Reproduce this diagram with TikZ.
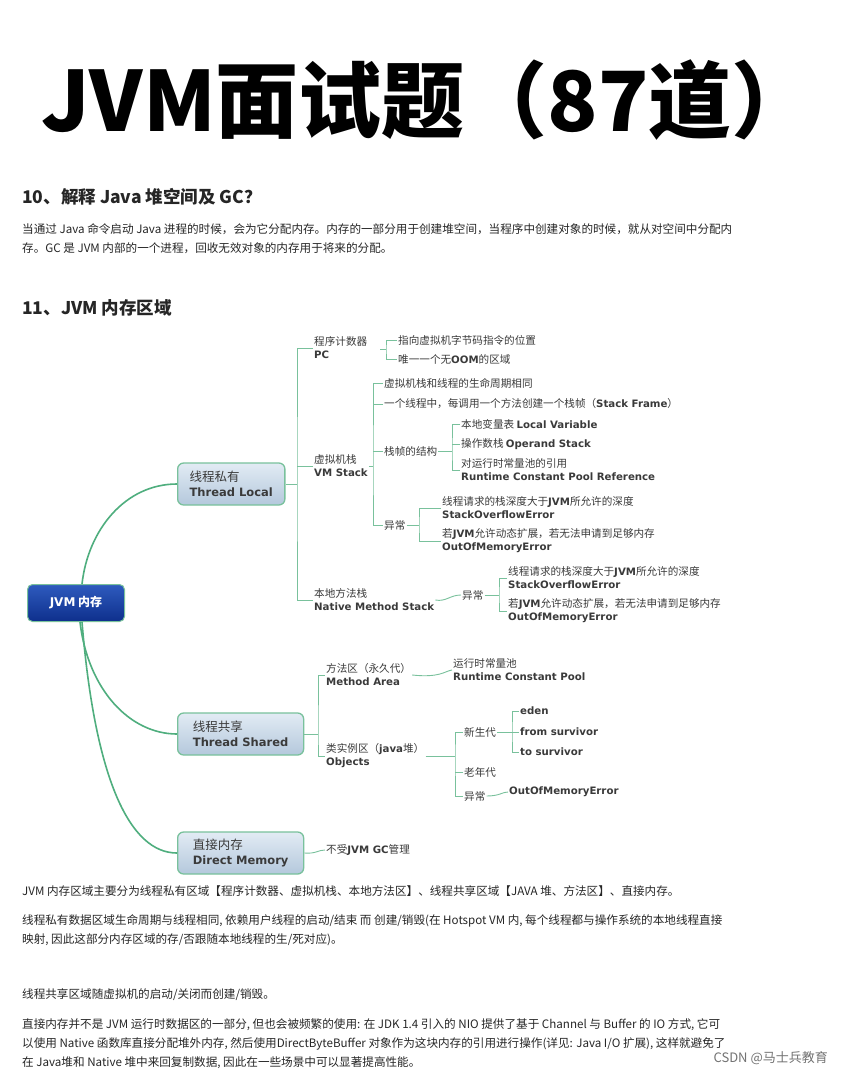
\documentclass[tikz,border=0pt]{standalone}
\usepackage{fontspec}
\setmainfont{Noto Sans CJK SC}
\newfontfamily\en{DejaVu Sans}
\definecolor{curve}{HTML}{4FAE7E}
\definecolor{brc}{HTML}{79C19C}
\definecolor{txt}{HTML}{3A3A3A}
\definecolor{boxl}{HTML}{E2EBF4}
\definecolor{boxd}{HTML}{B4C8DC}
\definecolor{jvmt}{HTML}{2E5BBE}
\definecolor{jvmb}{HTML}{0E2F8C}
\tikzset{
 br/.style={brc,line width=0.9pt},
 cv/.style={curve,line width=1.6pt},
 item/.style={anchor=west,inner sep=1pt,font=\fontsize{10.6}{13}\selectfont,text=txt,align=left},
 mbox/.style={rounded corners=6pt,draw=brc,line width=1.3pt,top color=boxl,bottom color=boxd,
   minimum height=42pt,inner xsep=12pt,anchor=west,align=left,text=txt,font=\fontsize{12.5}{15}\selectfont},
 para/.style={anchor=west,inner sep=0pt,font=\fontsize{11.6}{13}\selectfont,text=black!85},
 head/.style={anchor=west,inner sep=0pt,font=\fontsize{17.5}{19}\selectfont\bfseries,text=black!85}
}
\newcommand\B[1]{{\en\bfseries\fontsize{10.2}{13}\selectfont #1}}
\begin{document}
\begin{tikzpicture}[x=1pt,y=-1pt]
\useasboundingbox[fill=white] (0,0) rectangle (842,1079);
\node[inner sep=0pt,font=\fontsize{83}{88}\selectfont\bfseries] (title) at (428,100) {JVM面试题（87道）};
\node[head] (h10) at (22,197) {10、解释 Java 堆空间及 GC？};
\node[para] (p1) at (22,229) {当通过 Java 命令启动 Java 进程的时候，会为它分配内存。内存的一部分用于创建堆空间，当程序中创建对象的时候，就从对空间中分配内};
\node[para] (p2) at (22,248) {存。GC 是 JVM 内部的一个进程，回收无效对象的内存用于将来的分配。};
\node[head] (h11) at (22,308) {11、JVM 内存区域};

% boxes
\node[rounded corners=5pt,draw=brc,line width=1pt,top color=jvmt,bottom color=jvmb,
  minimum width=97pt,minimum height=37pt,text=white,font=\fontsize{12}{14}\selectfont\bfseries] (jvm) at (76,603) {{\en JVM} 内存};
\node[mbox,minimum width=106pt] (tl) at (177,484) {线程私有\\\textbf{\en\fontsize{11.5}{14}\selectfont Thread Local}};
\node[mbox,minimum width=126pt] (ts) at (177,734) {线程共享\\\textbf{\en\fontsize{11.5}{14}\selectfont Thread Shared}};
\node[mbox,minimum width=126pt] (dm) at (177,853) {直接内存\\\textbf{\en\fontsize{11.5}{14}\selectfont Direct Memory}};
\draw[cv] ([xshift=6pt]jvm.north) .. controls (88,530) and (125,484) .. (tl.west);
\draw[cv] ([xshift=4pt]jvm.south) .. controls (88,690) and (130,734) .. (ts.west);
\draw[cv] ([xshift=6pt]jvm.south) .. controls (95,780) and (130,853) .. (dm.west);

% Thread local children
\node[item] (pc) at (313,348) {程序计数器\\\B{PC}};
\node[item] (vms) at (313,466) {虚拟机栈\\\B{VM Stack}};
\node[item] (nms) at (313,600) {本地方法栈\\\B{Native Method Stack}};
\draw[br] (tl.east) -- (297,484);
\draw[br] (pc.west) -| (297,484) |- (nms.west);
\draw[br] (vms.west) -- (297,466);

% PC children
\node[item] (pc1) at (397,340) {指向虚拟机字节码指令的位置};
\node[item] (pc2) at (397,359) {唯一一个无\B{OOM}的区域};
\draw[br] (pc1.west) -| (386,349) |- (pc2.west);
\draw[br] (380,349) -- (386,349);

% VM stack children
\node[item] (v1) at (383,383) {虚拟机栈和线程的生命周期相同};
\node[item] (v2) at (383,404) {一个线程中，每调用一个方法创建一个栈帧（\B{Stack Frame}）};
\node[item] (v3) at (383,451) {栈帧的结构};
\node[item] (v4) at (383,525) {异常};
\draw[br] (v1.west) -| (373,466) |- (v4.west);
\draw[br] (v2.west) -- (373,404);
\draw[br] (v3.west) -- (373,451);
\draw[br] (vms.east) -- (373,466);

\node[item] (s1) at (460,424) {本地变量表 \B{Local Variable}};
\node[item] (s2) at (460,444) {操作数栈 \B{Operand Stack}};
\node[item] (s3) at (460,470) {对运行时常量池的引用\\\B{Runtime Constant Pool Reference}};
\draw[br] (s1.west) -| (452,451) |- (s3.west);
\draw[br] (s2.west) -- (452,444);
\draw[br] (v3.east) -- (452,451);

\node[item] (e1) at (441,508) {线程请求的栈深度大于\B{JVM}所允许的深度\\\B{StackOverflowError}};
\node[item] (e2) at (441,541) {若\B{JVM}允许动态扩展，若无法申请到足够内存\\\B{OutOfMemoryError}};
\draw[br] (e1.west) -| (419,525) |- (e2.west);
\draw[br] (v4.east) -- (419,525);

% native
\node[item] (ne) at (461,595) {异常};
\draw[br] (nms.east) .. controls (446,602) and (450,595) .. (ne.west);
\node[item] (n1) at (507,578) {线程请求的栈深度大于\B{JVM}所允许的深度\\\B{StackOverflowError}};
\node[item] (n2) at (507,611) {若\B{JVM}允许动态扩展，若无法申请到足够内存\\\B{OutOfMemoryError}};
\draw[br] (n1.west) -| (499,595) |- (n2.west);
\draw[br] (ne.east) -- (499,595);

% Thread shared
\node[item] (ma) at (325,675) {方法区（永久代）\\\B{Method Area}};
\node[item] (ob) at (325,756) {类实例区（\B{java}堆）\\\B{Objects}};
\draw[br] (ma.west) -| (318,734) |- (ob.west);
\draw[br] (ts.east) -- (318,734);
\node[item] (rcp) at (452,670) {运行时常量池\\\B{Runtime Constant Pool}};
\draw[br] (ma.east) .. controls (440,678) and (445,671) .. (rcp.west);

\node[item] (yg) at (463,732) {新生代};
\node[item] (og) at (463,772) {老年代};
\node[item] (oe) at (463,796) {异常};
\draw[br] (yg.west) -| (455,756) |- (oe.west);
\draw[br] (og.west) -- (455,772);
\draw[br] (ob.east) -- (455,756);
\node[item] (ed) at (519,711) {\B{eden}};
\node[item] (fs) at (519,732) {\B{from survivor}};
\node[item] (tsv) at (519,752) {\B{to survivor}};
\draw[br] (ed.west) -| (512,732) |- (tsv.west);
\draw[br] (yg.east) -- (fs.west);
\node[item] (oom) at (508,792) {\B{OutOfMemoryError}};
\draw[br] (oe.east) .. controls (500,796) and (502,792) .. (oom.west);

\node[item] (gc) at (325,850) {不受\B{JVM GC}管理};
\draw[br] (dm.east) .. controls (316,854) and (318,850) .. (gc.west);

% bottom text
\node[para] (b1) at (22,891) {JVM 内存区域主要分为线程私有区域【程序计数器、虚拟机栈、本地方法区】、线程共享区域【JAVA 堆、方法区】、直接内存。};
\node[para] (b2) at (22,921) {线程私有数据区域生命周期与线程相同, 依赖用户线程的启动/结束 而 创建/销毁(在 Hotspot VM 内, 每个线程都与操作系统的本地线程直接};
\node[para] (b3) at (22,940) {映射, 因此这部分内存区域的存/否跟随本地线程的生/死对应)。};
\node[para] (b4) at (22,995) {线程共享区域随虚拟机的启动/关闭而创建/销毁。};
\node[para] (b5) at (22,1025) {直接内存并不是 JVM 运行时数据区的一部分, 但也会被频繁的使用: 在 JDK 1.4 引入的 NIO 提供了基于 Channel 与 Buffer 的 IO 方式, 它可};
\node[para] (b6) at (22,1044) {以使用 Native 函数库直接分配堆外内存, 然后使用DirectByteBuffer 对象作为这块内存的引用进行操作(详见: Java I/O 扩展), 这样就避免了};
\node[para] (b7) at (22,1063) {在 Java堆和 Native 堆中来回复制数据, 因此在一些场景中可以显著提高性能。};
\node[anchor=east,inner sep=0pt,font=\fontsize{13}{15}\selectfont,text=black!55] (csdn) at (828,1058) {CSDN @马士兵教育};
\end{tikzpicture}
\end{document}
